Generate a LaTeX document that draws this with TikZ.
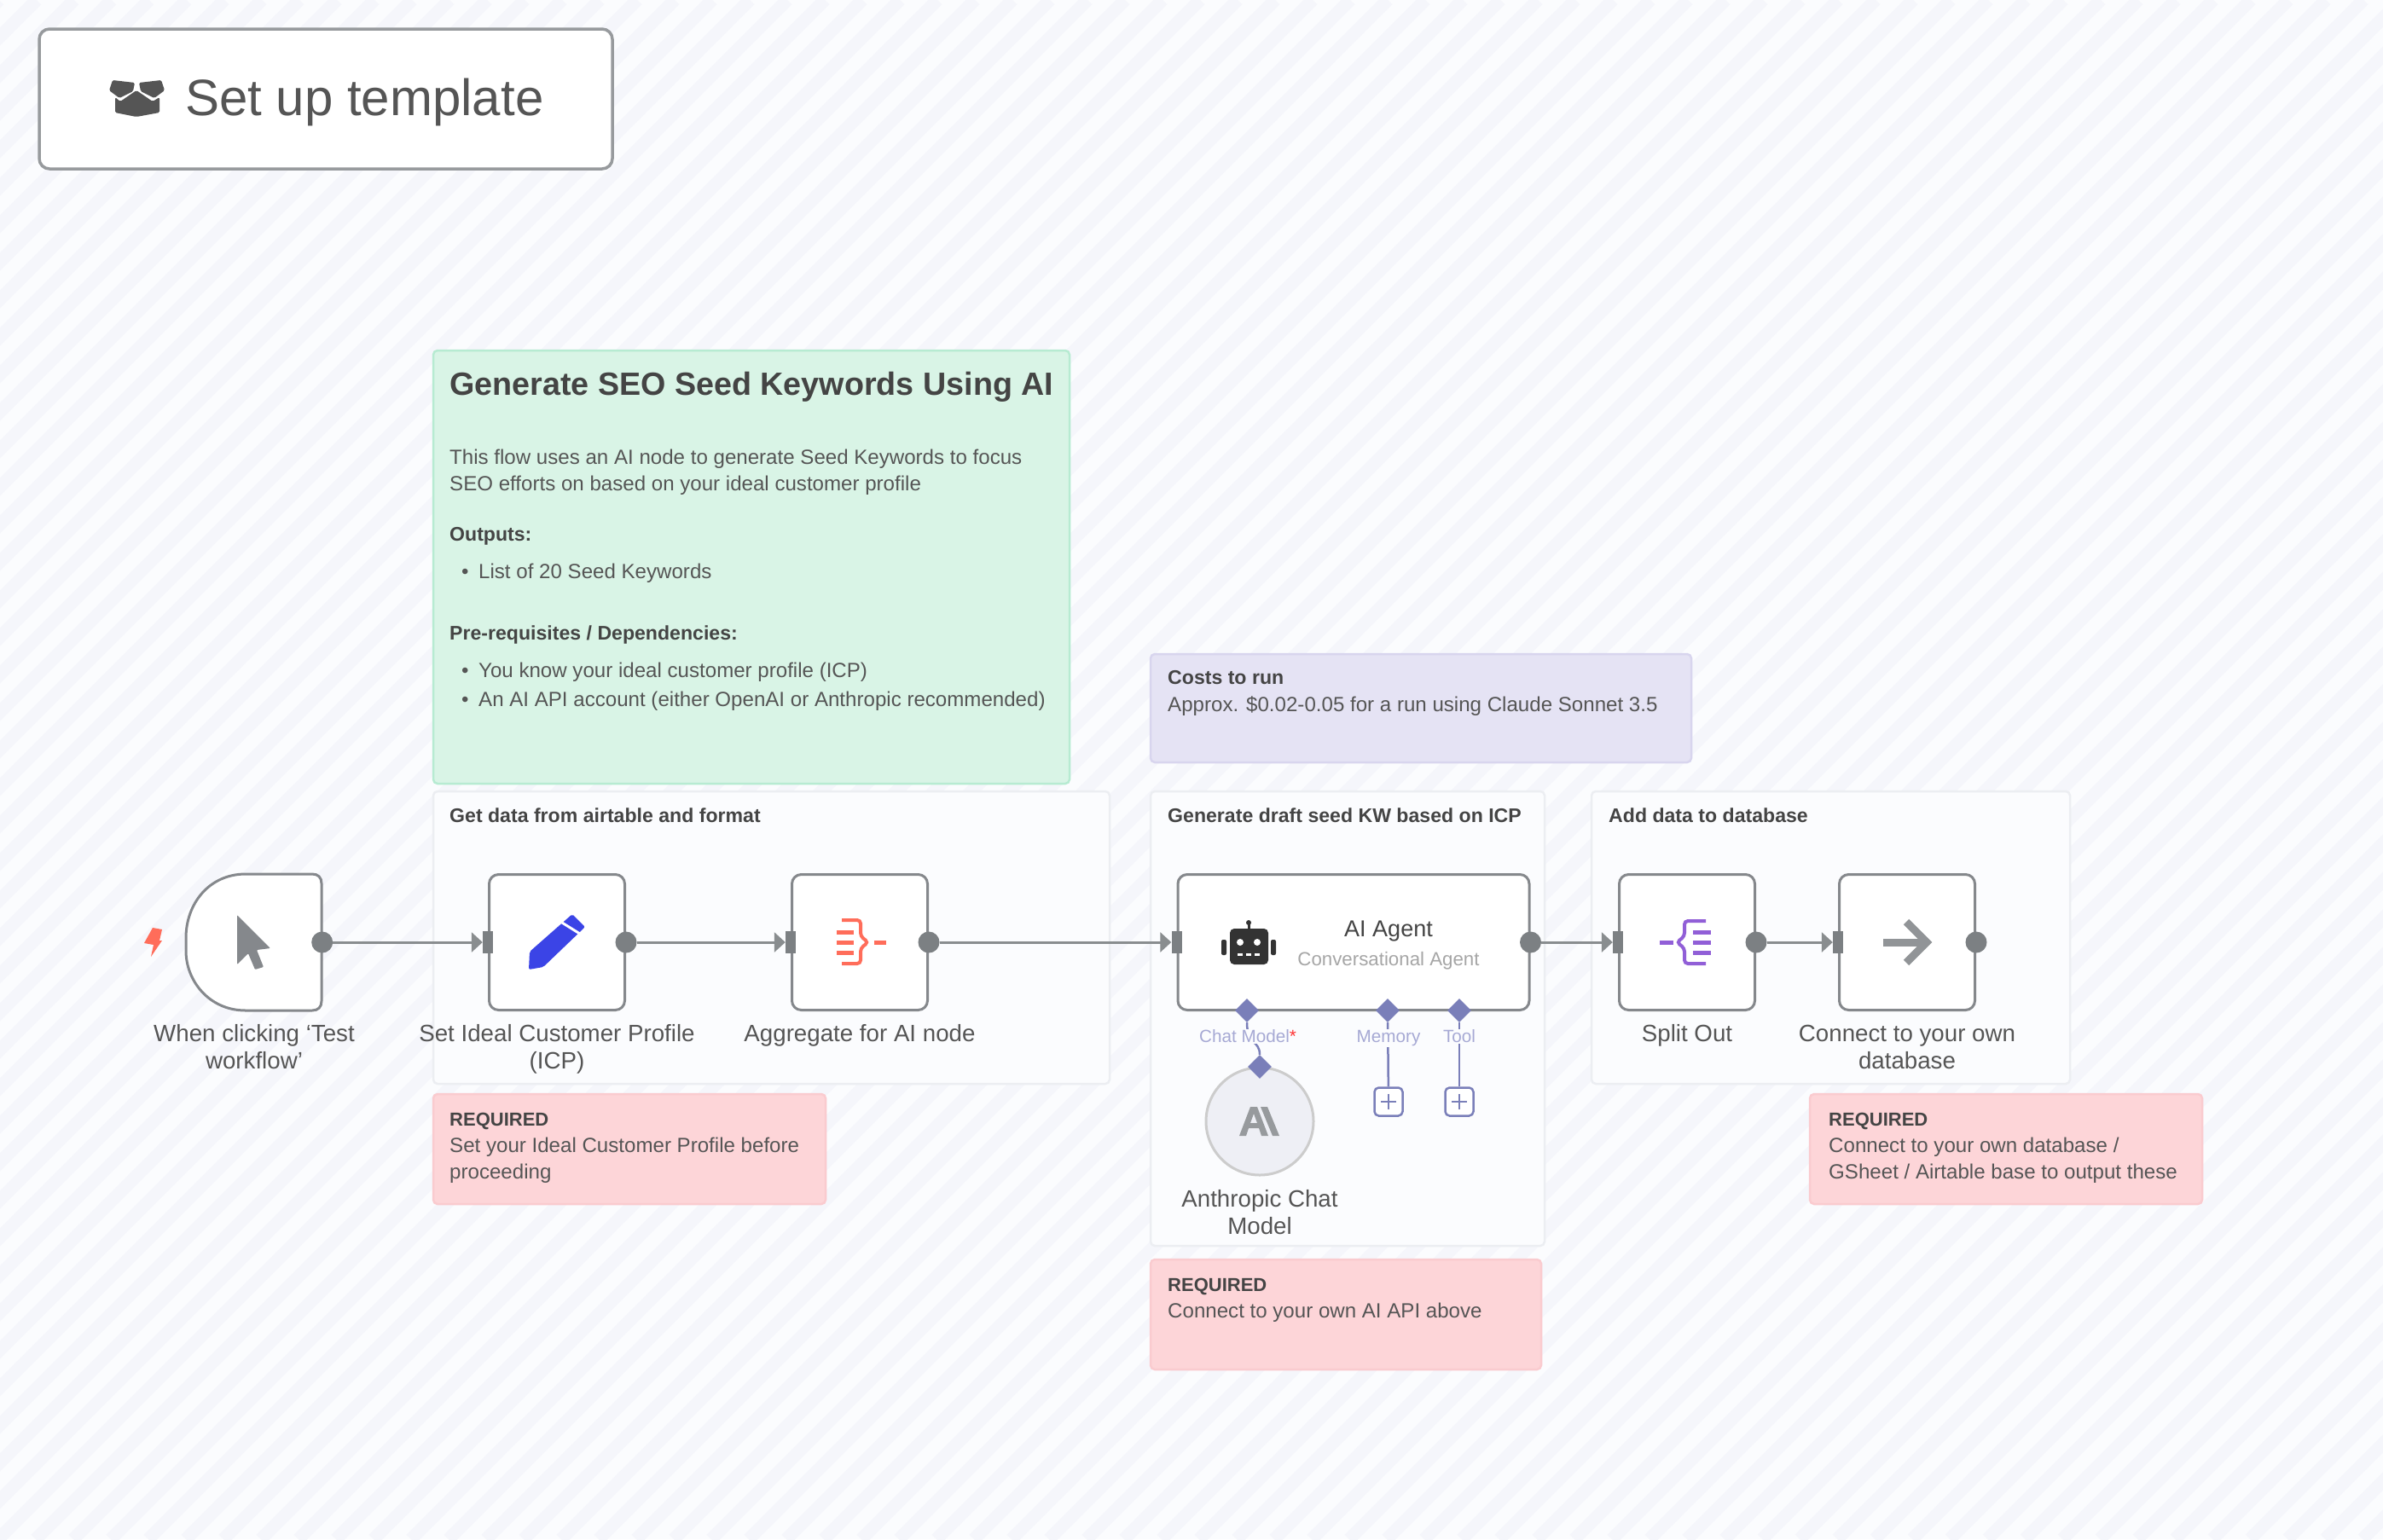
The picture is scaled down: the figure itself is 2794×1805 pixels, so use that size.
\documentclass[tikz,border=0pt]{standalone}
\usepackage{fontspec}
\usepackage{xcolor}
\setmainfont{Liberation Sans}
\usetikzlibrary{arrows.meta,shapes.geometric}

\definecolor{stripeA}{HTML}{FBFCFE}
\definecolor{stripeB}{HTML}{F5F6FB}
\definecolor{frameGray}{HTML}{85888C}
\definecolor{portGray}{HTML}{7C8083}
\definecolor{inkGray}{HTML}{555555}
\definecolor{inkDark}{HTML}{444444}
\definecolor{slotBlue}{HTML}{7A7FB9}
\definecolor{slotText}{HTML}{A6A9D4}
\definecolor{noteGreen}{HTML}{D9F4E6}
\definecolor{edgeGreen}{HTML}{B7EBD2}
\definecolor{notePurple}{HTML}{E5E3F4}
\definecolor{edgePurple}{HTML}{D8D5EE}
\definecolor{noteRed}{HTML}{FDD5D8}
\definecolor{edgeRed}{HTML}{FACBCF}
\definecolor{groupFill}{HTML}{FBFCFE}
\definecolor{groupEdge}{HTML}{ECEEF2}
\definecolor{boltRed}{HTML}{FF6D5A}
\definecolor{pencilBlue}{HTML}{3B44E6}
\definecolor{splitPurple}{HTML}{915FD7}
\definecolor{modelFill}{HTML}{EEEFF5}

\tikzset{
  flowbox/.style={draw=frameGray,fill=white,line width=3pt,rounded corners=11pt,minimum width=159pt,minimum height=159pt,inner sep=0pt},
  outdot/.style={circle,fill=portGray,minimum size=25pt,inner sep=0pt},
  inbar/.style={fill=portGray,minimum width=12pt,minimum height=26pt,inner sep=0pt},
  wire/.style={draw=portGray!90,line width=3pt,-{Triangle[length=13pt,width=23pt]}},
  slotdia/.style={diamond,fill=slotBlue,minimum size=28pt,inner sep=0pt},
  slotline/.style={draw=slotBlue,line width=2.5pt},
  plusbox/.style={draw=slotBlue,fill=white,line width=2.5pt,rounded corners=5pt,minimum size=33pt,inner sep=0pt},
  captiontxt/.style={anchor=north,align=center,inner sep=0pt,yshift=-3.5pt,text=inkGray,font=\fontsize{27.7}{32}\selectfont},
  slottxt/.style={anchor=mid,inner sep=1pt,yshift=-5pt,fill=groupFill,text=slotText,font=\fontsize{20.7}{24}\selectfont},
  notetxt/.style={anchor=mid west,inner sep=0pt,yshift=-6pt,text=inkGray,font=\fontsize{24.1}{31}\selectfont},
  notehead/.style={anchor=mid west,inner sep=0pt,yshift=-6pt,text=inkDark,font=\bfseries\fontsize{23.1}{31}\selectfont},
  reqhead/.style={notehead,font=\bfseries\fontsize{22}{31}\selectfont},
  groupbox/.style={draw=groupEdge,fill=groupFill,line width=2.5pt,rounded corners=5pt},
  greenbox/.style={draw=edgeGreen,fill=noteGreen,line width=2.5pt,rounded corners=5pt},
  purplebox/.style={draw=edgePurple,fill=notePurple,line width=2.5pt,rounded corners=5pt},
  redbox/.style={draw=edgeRed,fill=noteRed,line width=2.5pt,rounded corners=5pt},
}

\begin{document}
\begin{tikzpicture}[x=1pt,y=-1pt]
\useasboundingbox (0,0) rectangle (2794,1805);
%Background
\fill[stripeA] (0,0) rectangle (2794,1805);
\begin{scope}
\clip (0,0) rectangle (2794,1805);
\foreach \x in {-1850,-1806,...,2794}
  \draw[stripeB,line width=15pt] (\x,1805) -- (\x+1805,0);
\end{scope}

%Template button
\draw[draw=frameGray!85,fill=white,line width=3.5pt,rounded corners=12pt] (46,34) rectangle (718,198);
\fill[inkGray,rounded corners=1.5pt] (132,94) -- (158,97) -- (156,107) -- (140,115) -- (128,106) -- cycle;
\fill[inkGray,rounded corners=1.5pt] (189,94) -- (163,97) -- (165,107) -- (181,115) -- (193,106) -- cycle;
\fill[inkGray,rounded corners=1.5pt] (135,114) -- (141,119) -- (160,106) -- (179,119) -- (187,114) -- (187,132) -- (160,137) -- (135,132) -- cycle;
\node[anchor=mid west,inner sep=0pt,yshift=-18pt,text=inkGray,font=\fontsize{60}{64}\selectfont] (templatetxt) at (217,115) {Set up template};

%Sticky notes
\draw[greenbox] (508,411) rectangle (1254,919);
\draw[purplebox] (1349,767) rectangle (1983,894);
\draw[groupbox] (508,928) rectangle (1301,1271);
\draw[groupbox] (1349,928) rectangle (1811,1461);
\draw[groupbox] (1866,928) rectangle (2427,1271);
\draw[redbox] (508,1283) rectangle (968,1412);
\draw[redbox] (1349,1477) rectangle (1807,1606);
\draw[redbox] (2122,1283) rectangle (2582,1412);

%Green note
\node[anchor=mid west,inner sep=0pt,yshift=-11pt,text=inkDark,font=\bfseries\fontsize{37.7}{46}\selectfont] (titletxt) at (527,450) {Generate SEO Seed Keywords Using AI};
\node[notetxt,align=left,anchor=north west] (introtxt) at (527,521) {This flow uses an AI node to generate Seed Keywords to focus\\SEO efforts on based on your ideal customer profile};
\node[notehead] (outputstxt) at (527,626) {Outputs:};
\node[notetxt] (listtxt) at (541,670) {\makebox[20pt][l]{\textbullet}List of 20 Seed Keywords};
\node[notehead] (prereqtxt) at (527,742) {Pre-requisites / Dependencies:};
\node[notetxt] (knowtxt) at (541,786) {\makebox[20pt][l]{\textbullet}You know your ideal customer profile (ICP)};
\node[notetxt] (apitxt) at (541,820) {\makebox[20pt][l]{\textbullet}An AI API account (either OpenAI or Anthropic recommended)};

%Purple note
\node[notehead] (coststxt) at (1369,794) {Costs to run};
\node[notetxt] (approxtxt) at (1369,826) {Approx. \$0.02-0.05 for a run using Claude Sonnet 3.5};

%Group titles
\node[notehead] (grouponetxt) at (527,956) {Get data from airtable and format};
\node[notehead] (grouptwotxt) at (1369,956) {Generate draft seed KW based on ICP};
\node[notehead] (groupthreetxt) at (1886,956) {Add data to database};

%Red notes
\node[reqhead] (reqonetxt) at (527,1312) {REQUIRED};
\node[notetxt,align=left,anchor=north west] (reqonebody) at (527,1328) {Set your Ideal Customer Profile before\\proceeding};
\node[reqhead] (reqtwotxt) at (1369,1506) {REQUIRED};
\node[notetxt] (reqtwobody) at (1369,1537) {Connect to your own AI API above};
\node[reqhead] (reqthreetxt) at (2144,1312) {REQUIRED};
\node[notetxt,align=left,anchor=north west] (reqthreebody) at (2144,1328) {Connect to your own database /\\GSheet / Airtable base to output these};

%Nodes
\node[minimum width=159pt,minimum height=159pt,inner sep=0pt] (trigger) at (298,1105) {};
\draw[draw=frameGray,fill=white,line width=3pt] (288,1025) .. controls (245,1025) and (218,1060) .. (218,1100) -- (218,1115) .. controls (218,1150) and (245,1185) .. (288,1185) -- (366,1185) .. controls (373,1185) and (377,1181) .. (377,1174) -- (377,1036) .. controls (377,1029) and (373,1025) .. (366,1025) -- cycle;
\node[flowbox] (setnode) at (653,1105) {};
\node[flowbox] (aggnode) at (1008,1105) {};
\node[flowbox,minimum width=412pt] (agentnode) at (1587,1105) {};
\node[flowbox] (splitnode) at (1978,1105) {};
\node[flowbox] (dbnode) at (2236,1105) {};

%Ports
\node[outdot] (triggerout) at (trigger.east) {};
\node[outdot] (setout) at (setnode.east) {};
\node[outdot] (aggout) at (aggnode.east) {};
\node[outdot] (agentout) at (agentnode.east) {};
\node[outdot] (splitout) at (splitnode.east) {};
\node[outdot] (dbout) at (dbnode.east) {};
\node[inbar] (setin) at (setnode.west) {};
\node[inbar] (aggin) at (aggnode.west) {};
\node[inbar] (agentin) at (agentnode.west) {};
\node[inbar] (splitin) at (splitnode.west) {};
\node[inbar] (dbin) at (dbnode.west) {};

%Wires
\draw[wire] (triggerout) -- (setin);
\draw[wire] (setout) -- (aggin);
\draw[wire] (aggout) -- (agentin);
\draw[wire] (agentout) -- (splitin);
\draw[wire] (splitout) -- (dbin);

%Icons
\fill[boltRed] (179,1088) -- (190,1090) -- (187,1103) -- (190,1103) -- (177,1122) -- (180,1108) -- (169,1106) -- cycle;
\fill[frameGray,rounded corners=1pt] (278,1073) -- (317,1112) -- (301,1114) -- (309,1134) -- (299,1137) -- (291,1118) -- (278,1131) -- cycle;
\fill[pencilBlue,rounded corners=2pt] (620,1137) -- (621,1116) -- (671,1072) -- (686,1087) -- (637,1134) -- cycle;
\draw[white,line width=3pt] (659,1082) -- (683,1097);
\begin{scope}[draw=boltRed,line width=5pt]
\draw (981,1093) -- (1001,1093);
\draw (981,1105) -- (1001,1105);
\draw (981,1117) -- (1001,1117);
\draw[line width=4pt,rounded corners=4pt] (987,1079) -- (1009,1079) -- (1009,1098) -- (1018,1105) -- (1009,1112) -- (1009,1130) -- (987,1130);
\draw (1025,1105) -- (1039,1105);
\end{scope}
\begin{scope}[draw=splitPurple,line width=5pt]
\draw (1946,1105) -- (1962,1105);
\draw[line width=4pt,rounded corners=4pt] (2000,1080) -- (1975,1080) -- (1975,1098) -- (1966,1105) -- (1975,1112) -- (1975,1130) -- (2000,1130);
\draw (1985,1093) -- (2006,1093);
\draw (1985,1105) -- (2006,1105);
\draw (1985,1117) -- (2006,1117);
\end{scope}
\draw[frameGray!90,line width=9pt] (2208,1105) -- (2258,1105);
\draw[frameGray!90,line width=9pt] (2235,1081) -- (2259,1105) -- (2235,1129);

%Robot
\fill[black!80,rounded corners=5pt] (1442,1089) rectangle (1487,1131);
\fill[black!80] (1462.5,1082) rectangle (1465.5,1090);
\fill[black!80] (1464,1082) circle (3pt);
\fill[black!80,rounded corners=2pt] (1432,1102) rectangle (1438,1120);
\fill[black!80,rounded corners=2pt] (1490,1102) rectangle (1496,1120);
\fill[white] (1454,1105) circle (4pt);
\fill[white] (1474,1105) circle (4pt);
\fill[white] (1451,1118) rectangle (1457,1121);
\fill[white] (1461,1118) rectangle (1467,1121);
\fill[white] (1471,1118) rectangle (1477,1121);

%Agent text
\node[anchor=mid,inner sep=0pt,yshift=-7pt,text=inkDark,font=\fontsize{27}{32}\selectfont] (agenttxt) at (1628,1089) {AI Agent};
\node[anchor=mid,inner sep=0pt,yshift=-6pt,text=black!35,font=\fontsize{22.3}{28}\selectfont] (agentsub) at (1628,1124) {Conversational Agent};

%Sub nodes
\node[circle,draw=black!20,fill=modelFill,line width=3pt,minimum size=126pt,inner sep=0pt] (modelnode) at (1477,1315) {};
\fill[frameGray!85,even odd rule] (1453,1332) -- (1466,1298) -- (1474,1298) -- (1487,1332) -- (1479,1332) -- (1476,1323) -- (1464,1323) -- (1461,1332) -- cycle (1466,1317) -- (1474,1317) -- (1470,1306) -- cycle;
\fill[frameGray!85] (1478,1298) -- (1486,1298) -- (1500,1332) -- (1492,1332) -- cycle;
\node[slotdia] (chatdia) at (1462,1185) {};
\node[slotdia] (memdia) at (1627,1185) {};
\node[slotdia] (tooldia) at (1711,1185) {};
\node[slotdia] (modeldia) at (1477,1251) {};
\node[plusbox] (memplus) at (1628,1292) {};
\node[plusbox] (toolplus) at (1711,1292) {};
\draw[slotline] (1619,1292) -- (1637,1292) (1628,1283) -- (1628,1301);
\draw[slotline] (1702,1292) -- (1720,1292) (1711,1283) -- (1711,1301);
\draw[slotline] (chatdia) .. controls (1462,1225) and (1477,1220) .. (modeldia);
\draw[slotline] (memdia) -- (memplus);
\draw[slotline] (tooldia) -- (toolplus);
\node[slottxt] (chattxt) at (1463,1215) {Chat Model\textcolor{red!80}{*}};
\node[slottxt] (memtxt) at (1628,1215) {Memory};
\node[slottxt] (tooltxt) at (1711,1215) {Tool};

%Captions
\node[captiontxt] (triggercap) at (298,1198) {When clicking ‘Test\\workflow’};
\node[captiontxt] (setcap) at (653,1198) {Set Ideal Customer Profile\\(ICP)};
\node[captiontxt] (aggcap) at (1008,1198) {Aggregate for AI node};
\node[captiontxt] (modelcap) at (1477,1392) {Anthropic Chat\\Model};
\node[captiontxt] (splitcap) at (1978,1198) {Split Out};
\node[captiontxt] (dbcap) at (2236,1198) {Connect to your own\\database};
\end{tikzpicture}
\end{document}
